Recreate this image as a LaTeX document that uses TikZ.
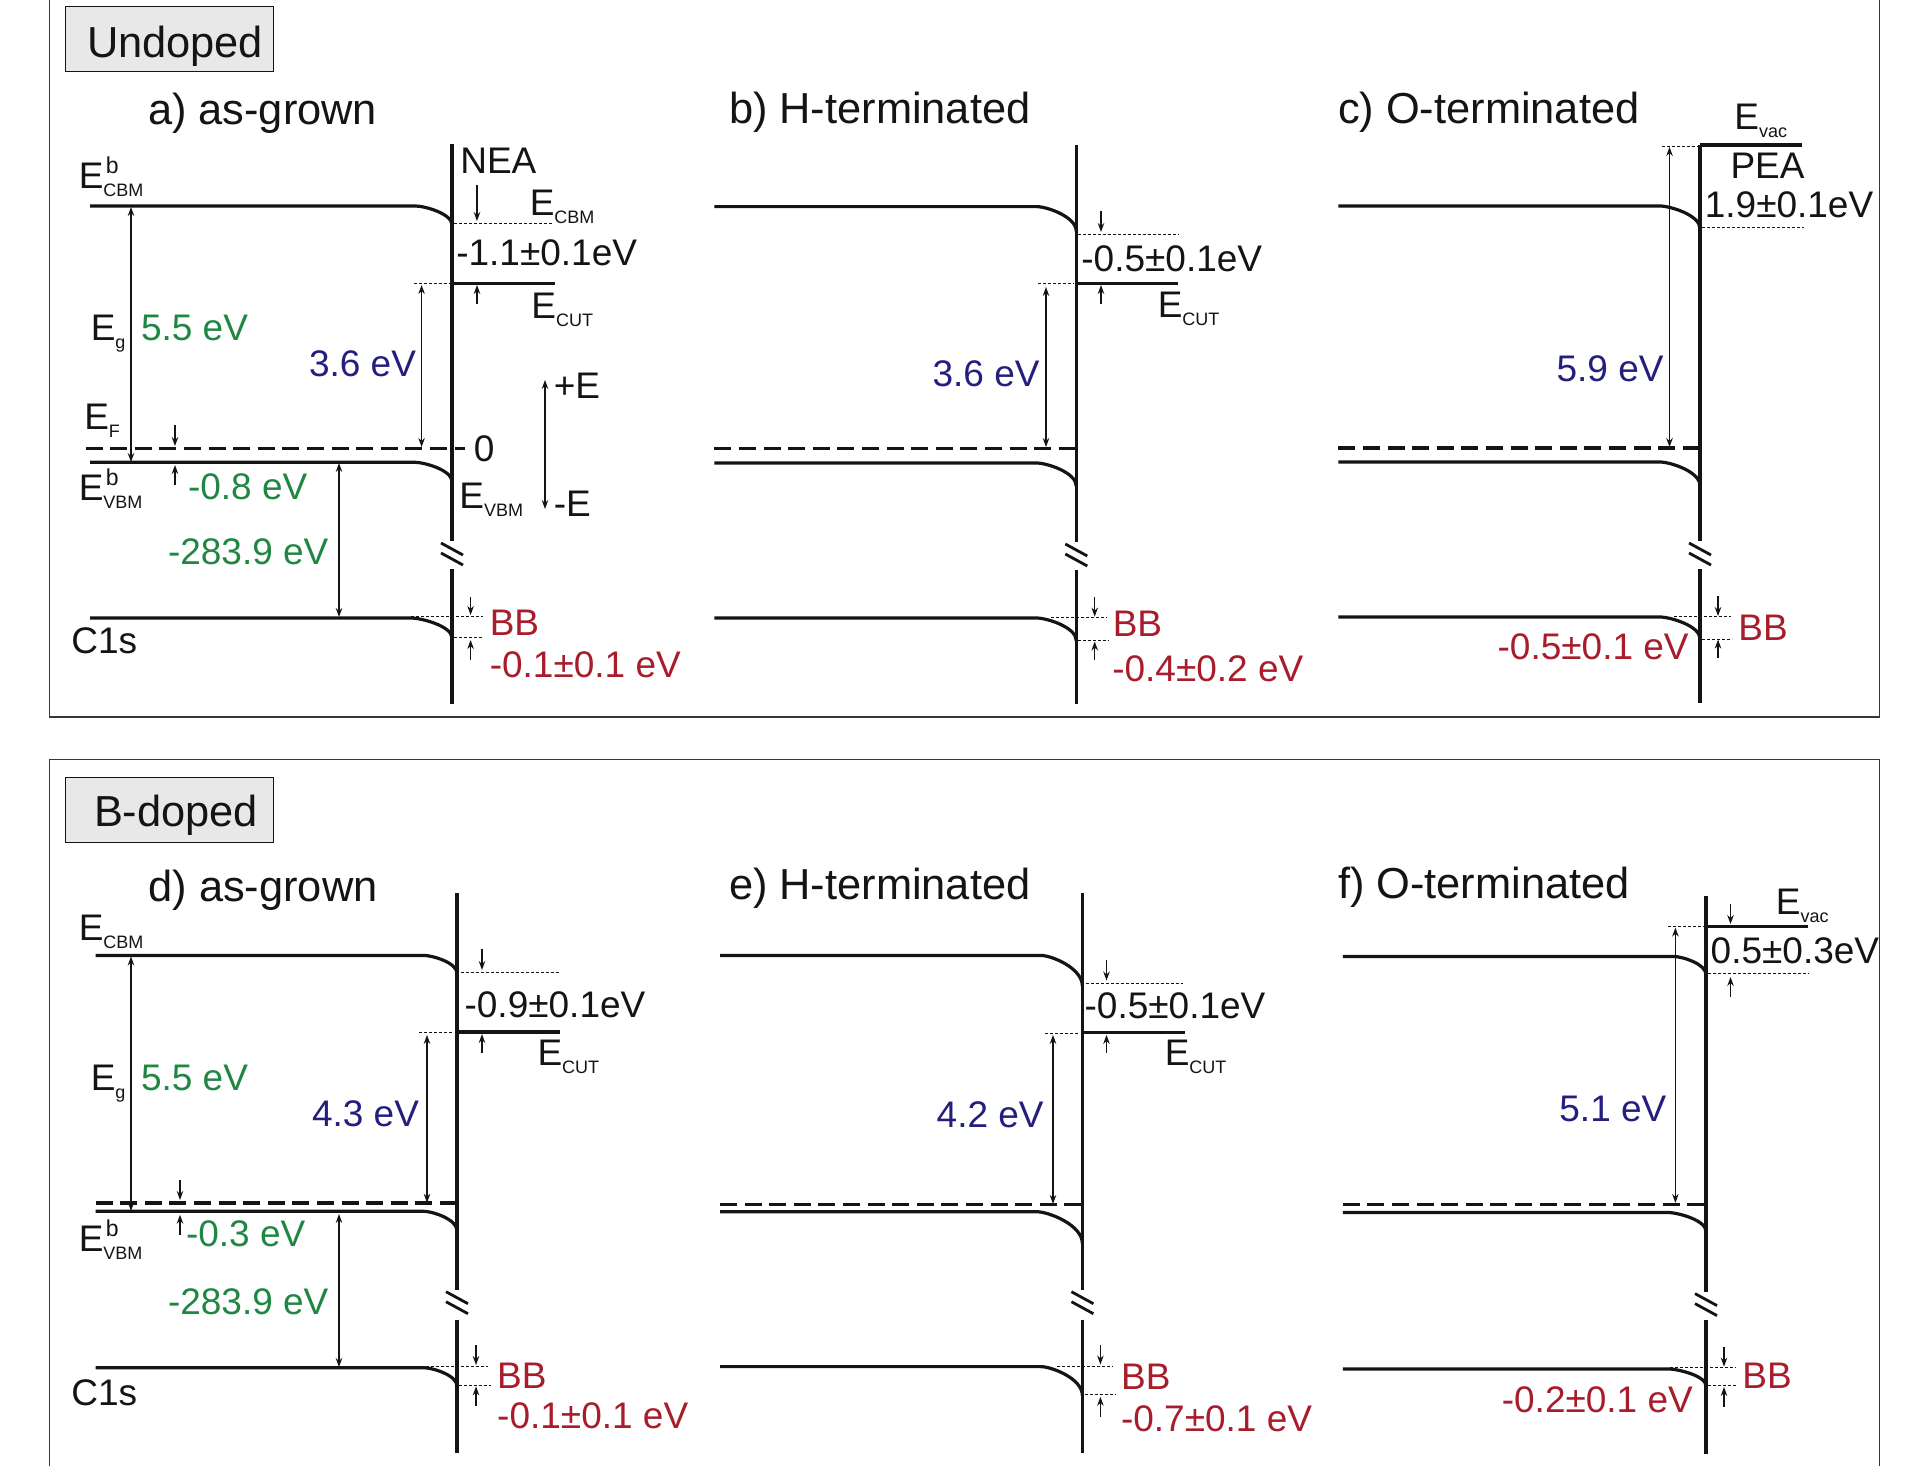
\documentclass[tikz,border=0pt]{standalone}
\usepackage{fontspec}
\setmainfont{Liberation Sans}
\usetikzlibrary{arrows.meta}
\definecolor{gtxt}{HTML}{1F8743}
\definecolor{btxt}{HTML}{241E7C}
\definecolor{rtxt}{HTML}{A81D2B}
\definecolor{ktxt}{HTML}{141414}
\tikzset{
  level/.style={line width=3.2pt,color=ktxt},
  fermi/.style={line width=3.2pt,color=ktxt,dash pattern=on 17pt off 7.6pt},
  axisline/.style={line width=3.4pt,color=ktxt},
  slash/.style={line width=2.8pt,color=ktxt},
  guide/.style={line width=1pt,color=ktxt,dash pattern=on 3pt off 2pt},
  dim/.style={line width=1.1pt,color=ktxt,{Stealth[length=9pt,width=6.5pt]}-{Stealth[length=9pt,width=6.5pt]}},
  tick/.style={line width=1.1pt,color=ktxt,-{Stealth[length=9pt,width=6.5pt]}},
  frame/.style={line width=1.1pt,draw=ktxt!85},
  tagbox/.style={line width=1.2pt,draw=ktxt,fill=black!9},
  ttl/.style={anchor=base west,inner sep=0pt,outer sep=0pt,text=ktxt,font=\fontsize{43.4}{46}\selectfont},
  txt/.style={anchor=base west,inner sep=0pt,outer sep=0pt,text=ktxt,xshift=-1.2pt,font=\fontsize{37}{40}\selectfont},
  grn/.style={anchor=base west,inner sep=0pt,outer sep=0pt,text=gtxt,font=\fontsize{37}{40}\selectfont},
  blu/.style={anchor=base west,inner sep=0pt,outer sep=0pt,text=btxt,font=\fontsize{37}{40}\selectfont},
  rd/.style={txt,text=rtxt},
}
\newcommand{\lab}[5]{\node[#2] (#1) at (#3,#4) {#5};}
\newcommand{\sbb}[1]{\raisebox{-8pt}{\fontsize{18}{20}\selectfont #1}}
\newcommand{\spb}[1]{\rlap{\kern2.5pt\raisebox{15pt}{\fontsize{23}{25}\selectfont b}}\sbb{#1}}
% left, bend start, y, axis x, y at the axis
\newcommand{\band}[5]{\draw[level] (#1,#3) -- (#2,#3) .. controls ({#2+0.25*(#4-#2)},#3) and (#4,{#3+0.4*(#5-#3)}) .. (#4,#5);}
% x, top, gap top, gap bottom, bottom
\newcommand{\surf}[5]{%
  \draw[axisline] (#1,#2) -- (#1,#3);
  \draw[axisline] (#1,#4) -- (#1,#5);
  \draw[slash] ({#1-11},#3+2) -- ({#1+11},#3+14);
  \draw[slash] ({#1-11},#3+12) -- ({#1+11},#3+24);}
\begin{document}
\begin{tikzpicture}[x=1pt,y=-1pt]
\useasboundingbox (0,0) rectangle (1921,1465);
\fill[white] (0,0) rectangle (1921,1465);
\draw[frame] (49.3,-3) rectangle (1879.5,717);
\draw[frame] (49.3,759.5) rectangle (1879.5,1470);
\draw[tagbox] (65.5,6.3) rectangle (273.5,71.3);
\draw[tagbox] (65.5,777.3) rectangle (273.5,842.3);
\lab{tagU}{ttl}{87}{57.3}{Undoped}
\lab{tagB}{ttl}{94}{826}{B-doped}

% ---------- a
\lab{ta}{ttl}{148}{124}{a) as-grown}
\surf{452}{144}{541}{569}{704}
\band{90}{415.5}{206}{452}{225}
\band{90}{415}{462.3}{452}{481.7}
\band{90}{411}{618}{452}{638}
\draw[fermi] (85.5,448.3) -- (465,448.3);
\draw[level] (453,283.3) -- (555,283.3);
\draw[guide] (454,223) -- (552,223);
\draw[guide] (413.5,283) -- (450,283);
\draw[guide] (411,616) -- (483,616);
\draw[guide] (454,637) -- (482,637);
\draw[dim] (131,207) -- (131,462);
\draw[dim] (421.6,285) -- (421.6,447);
\draw[dim] (339,463) -- (339,617);
\draw[dim] (545,380) -- (545,509);
\draw[tick] (477,185) -- (477,221);
\draw[tick] (477,304) -- (477,285);
\draw[tick] (175,425) -- (175,446);
\draw[tick] (175,485) -- (175,465);
\draw[tick] (470.6,597) -- (470.6,615);
\draw[tick] (470.6,660) -- (470.6,640);
\lab{a1}{txt}{80}{188}{E\spb{CBM}}
\lab{a2}{txt}{461.5}{173}{NEA}
\lab{a3}{txt}{531}{215}{E\sbb{CBM}}
\lab{a4}{txt}{457.5}{265.5}{-1.1±0.1eV}
\lab{a5}{txt}{532.6}{318}{E\sbb{CUT}}
\lab{a6}{txt}{92}{340.7}{E\sbb{g}}
\lab{a7}{grn}{141}{340}{5.5 eV}
\lab{a8}{blu}{309}{376.7}{3.6 eV}
\lab{a9}{txt}{555}{398}{+E}
\lab{a10}{txt}{555}{516.7}{-E}
\lab{a11}{txt}{85.5}{429}{E\sbb{F}}
\lab{a12}{txt}{475}{461}{0}
\lab{a13}{txt}{80}{500}{E\spb{VBM}}
\lab{a14}{grn}{188}{499}{-0.8 eV}
\lab{a15}{txt}{460.6}{508}{E\sbb{VBM}}
\lab{a16}{grn}{168}{564}{-283.9 eV}
\lab{a17}{txt}{72.5}{653}{C1s}
\lab{a18}{rd}{491}{635}{BB}
\lab{a19}{rd}{491}{677}{-0.1±0.1 eV}

% ---------- b
\lab{tb}{ttl}{729}{123.7}{b) H-terminated}
\surf{1076.3}{144.6}{542}{570}{704}
\band{714.3}{1036.7}{206.6}{1076.3}{231.5}
\band{714.3}{1036.7}{463}{1076.3}{486.3}
\band{714.3}{1036.7}{618}{1076.3}{640.7}
\draw[fermi] (714.3,448.8) -- (1076,448.8);
\draw[level] (1076,283.3) -- (1178,283.3);
\draw[guide] (1077.5,234) -- (1177.6,234);
\draw[guide] (1038,283) -- (1073.5,283);
\draw[guide] (1051,617) -- (1107,617);
\draw[guide] (1077.5,640) -- (1109,640);
\draw[dim] (1046,287) -- (1046,447);
\draw[tick] (1101,211) -- (1101,232);
\draw[tick] (1101,304) -- (1101,285);
\draw[tick] (1094.7,596.7) -- (1094.7,616.6);
\draw[tick] (1094.7,659.5) -- (1094.7,641.5);
\lab{b1}{txt}{1082.6}{271.8}{-0.5±0.1eV}
\lab{b2}{txt}{1159}{317.7}{E\sbb{CUT}}
\lab{b3}{blu}{932.6}{386}{3.6 eV}
\lab{b4}{rd}{1114}{636}{BB}
\lab{b5}{rd}{1113.5}{681.7}{-0.4±0.2 eV}

% ---------- c
\lab{tc}{ttl}{1338}{123.5}{c) O-terminated}
\surf{1700}{145}{541}{569.4}{703}
\band{1338.4}{1660}{206}{1700}{228.6}
\band{1338.4}{1660}{462}{1700}{485.7}
\band{1338.4}{1660}{617}{1700}{638.8}
\draw[fermi] (1338.4,448) -- (1700,448);
\draw[level] (1700,145) -- (1802,145);
\draw[guide] (1662,146) -- (1698,146);
\draw[guide] (1702,227.3) -- (1803.8,227.3);
\draw[guide] (1674,616) -- (1731,616);
\draw[guide] (1702,639) -- (1732,639);
\draw[dim] (1669.5,147) -- (1669.5,447);
\draw[tick] (1718,596) -- (1718,616);
\draw[tick] (1718,658) -- (1718,639.6);
\lab{c1}{txt}{1735.6}{129.8}{E\sbb{vac}}
\lab{c2}{txt}{1731.7}{178.4}{PEA}
\lab{c3}{txt}{1706}{217.6}{1.9±0.1eV}
\lab{c4}{blu}{1556.6}{381.6}{5.9 eV}
\lab{c5}{rd}{1739.6}{640}{BB}
\lab{c6}{rd}{1498.8}{659}{-0.5±0.1 eV}

% ---------- d
\lab{td}{ttl}{148.4}{901.5}{d) as-grown}
\surf{457}{893}{1289.7}{1319.6}{1452.8}
\band{95.5}{423.8}{955.4}{457}{973.3}
\band{95.5}{423.8}{1211.3}{457}{1230.7}
\band{95.5}{423.8}{1367.7}{457}{1386}
\draw[fermi] (95.5,1203) -- (457,1203);
\draw[level] (457,1032) -- (559.5,1032);
\draw[guide] (460.6,972) -- (560,972);
\draw[guide] (419,1032) -- (454,1032);
\draw[guide] (426,1366) -- (488,1366);
\draw[guide] (458.5,1385.6) -- (491,1385.6);
\draw[dim] (131,956.5) -- (131,1211);
\draw[dim] (427,1034.9) -- (427,1202.8);
\draw[dim] (339,1214) -- (339,1367);
\draw[tick] (482,949) -- (482,970);
\draw[tick] (482,1052.8) -- (482,1034);
\draw[tick] (180,1180.4) -- (180,1200);
\draw[tick] (180,1234.5) -- (180,1214.7);
\draw[tick] (476,1345) -- (476,1365);
\draw[tick] (476,1406) -- (476,1386.4);
\lab{d1}{txt}{80}{940.4}{E\sbb{CBM}}
\lab{d2}{txt}{465.8}{1017}{-0.9±0.1eV}
\lab{d3}{txt}{538.7}{1065.8}{E\sbb{CUT}}
\lab{d4}{txt}{92}{1090.8}{E\sbb{g}}
\lab{d5}{grn}{141}{1090.8}{5.5 eV}
\lab{d6}{blu}{312}{1126}{4.3 eV}
\lab{d7}{txt}{80}{1251}{E\spb{VBM}}
\lab{d8}{grn}{186}{1246.4}{-0.3 eV}
\lab{d9}{grn}{168}{1314}{-283.9 eV}
\lab{d10}{txt}{72.5}{1405.4}{C1s}
\lab{d11}{rd}{498.4}{1388}{BB}
\lab{d12}{rd}{498.4}{1428.5}{-0.1±0.1 eV}

% ---------- e
\lab{te}{ttl}{729}{899.4}{e) H-terminated}
\surf{1082.4}{893}{1289.7}{1319.6}{1452.8}
\band{720}{1040.8}{955.4}{1082.4}{986.3}
\band{720}{1036.7}{1211.7}{1082.4}{1243.8}
\band{720}{1040.8}{1366.6}{1082.4}{1395.7}
\draw[fermi] (720,1204.6) -- (1082,1204.6);
\draw[level] (1082,1032.2) -- (1185,1032.2);
\draw[guide] (1085.7,983.4) -- (1182.9,983.4);
\draw[guide] (1045,1033.4) -- (1079.6,1033.4);
\draw[guide] (1057,1366.6) -- (1113,1366.6);
\draw[guide] (1084.5,1394.6) -- (1115.5,1394.6);
\draw[dim] (1053,1034.9) -- (1053,1203.9);
\draw[tick] (1106.5,960) -- (1106.5,980.5);
\draw[tick] (1106.5,1052.8) -- (1106.5,1034.9);
\draw[tick] (1100.4,1345) -- (1100.4,1364.5);
\draw[tick] (1100.4,1416.6) -- (1100.4,1396.8);
\lab{e1}{txt}{1085.8}{1018.8}{-0.5±0.1eV}
\lab{e2}{txt}{1166}{1065.8}{E\sbb{CUT}}
\lab{e3}{blu}{936.7}{1127}{4.2 eV}
\lab{e4}{rd}{1122.4}{1389.3}{BB}
\lab{e5}{rd}{1122.2}{1431.5}{-0.7±0.1 eV}

% ---------- f
\lab{tf}{ttl}{1338}{898.6}{f) O-terminated}
\surf{1706}{895.5}{1291.6}{1320}{1453.8}
\band{1342.8}{1674}{956.5}{1706}{974.7}
\band{1342.8}{1668}{1212.5}{1706}{1231.4}
\band{1342.8}{1668}{1368.9}{1706}{1385.9}
\draw[fermi] (1342.8,1204.4) -- (1706,1204.4);
\draw[level] (1706,926.4) -- (1807.7,926.4);
\draw[guide] (1668,926.4) -- (1704,926.4);
\draw[guide] (1708,973) -- (1809,973);
\draw[guide] (1670,1367.7) -- (1735.6,1367.7);
\draw[guide] (1708,1385.5) -- (1735.6,1385.5);
\draw[dim] (1675.4,927.6) -- (1675.4,1202.9);
\draw[tick] (1730.5,903.6) -- (1730.5,924);
\draw[tick] (1730.5,997) -- (1730.5,977);
\draw[tick] (1724,1346.5) -- (1724,1366.6);
\draw[tick] (1724,1407) -- (1724,1387);
\lab{f1}{txt}{1777}{914}{E\sbb{vac}}
\lab{f2}{txt}{1711.9}{963.5}{0.5±0.3eV}
\lab{f3}{blu}{1559.4}{1121.8}{5.1 eV}
\lab{f4}{rd}{1743.6}{1388}{BB}
\lab{f5}{rd}{1503}{1412}{-0.2±0.1 eV}
\end{tikzpicture}
\end{document}
